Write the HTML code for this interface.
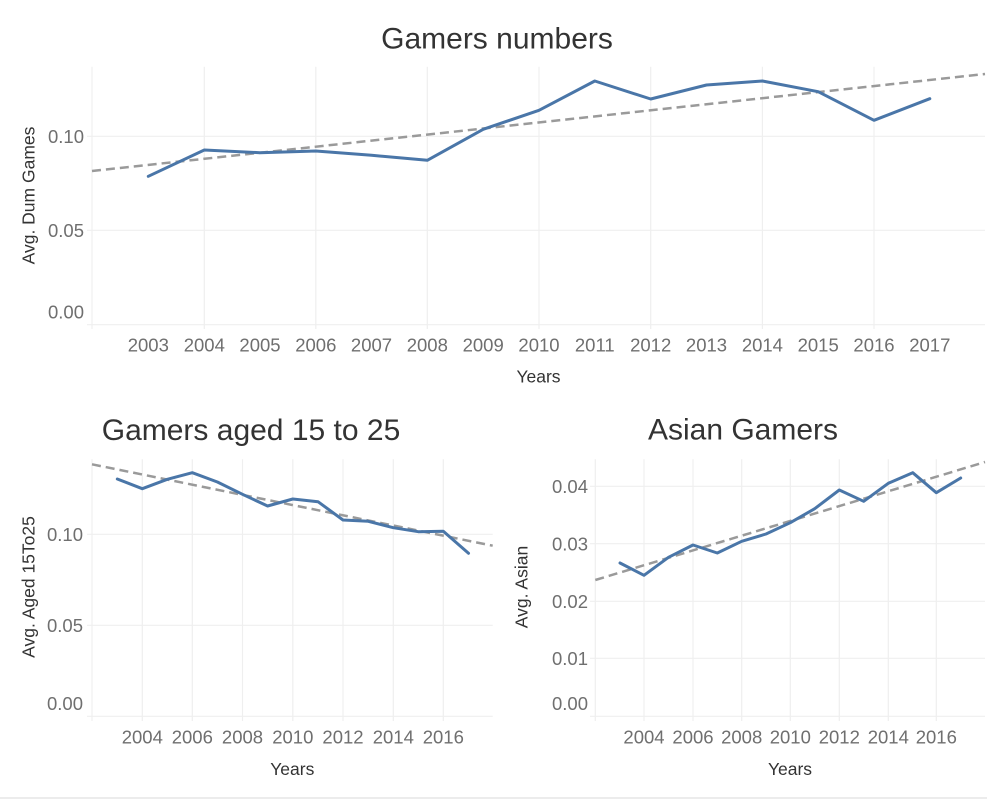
<!DOCTYPE html>
<html>
<head>
<meta charset="utf-8">
<style>
html,body{margin:0;padding:0;background:#fff;}
svg{display:block;}
text{font-family:"Liberation Sans",sans-serif;}
.title{font-size:30px;fill:#333;text-anchor:middle;}
.tick{font-size:18.5px;fill:#6f6f6f;}
.ytick{text-anchor:end;}
.xtick{text-anchor:middle;}
.alab{font-size:17.5px;fill:#333;text-anchor:middle;}
.grid{stroke:#efefef;stroke-width:1.2;fill:none;}
.series{stroke:#4a76a8;stroke-width:3;fill:none;stroke-linejoin:round;stroke-linecap:round;}
.trend{stroke:#9a9a9a;stroke-width:2.5;fill:none;stroke-dasharray:9,5;}
</style>
</head>
<body>
<svg width="987" height="800" viewBox="0 0 987 800" xmlns="http://www.w3.org/2000/svg">
<rect width="987" height="800" fill="#fff"/>

<!-- ================= TOP CHART ================= -->
<text class="title" x="497" y="48.3">Gamers numbers</text>
<g class="grid">
  <line x1="87" y1="136.3" x2="985" y2="136.3"/>
  <line x1="87" y1="230.3" x2="985" y2="230.3"/>
  <line x1="87" y1="324.7" x2="985" y2="324.7"/>
  <line x1="92" y1="66.7" x2="92" y2="329"/>
  <line x1="204.3" y1="66.7" x2="204.3" y2="329"/>
  <line x1="315.8" y1="66.7" x2="315.8" y2="329"/>
  <line x1="427.3" y1="66.7" x2="427.3" y2="329"/>
  <line x1="539" y1="66.7" x2="539" y2="329"/>
  <line x1="650.7" y1="66.7" x2="650.7" y2="329"/>
  <line x1="762.4" y1="66.7" x2="762.4" y2="329"/>
  <line x1="874" y1="66.7" x2="874" y2="329"/>
</g>
<text class="tick ytick" x="84" y="143">0.10</text>
<text class="tick ytick" x="84" y="237">0.05</text>
<text class="tick ytick" x="84" y="318.3">0.00</text>
<g class="tick xtick">
  <text x="148.3" y="351.5">2003</text>
  <text x="204.3" y="351.5">2004</text>
  <text x="260" y="351.5">2005</text>
  <text x="315.8" y="351.5">2006</text>
  <text x="371.5" y="351.5">2007</text>
  <text x="427.3" y="351.5">2008</text>
  <text x="483.2" y="351.5">2009</text>
  <text x="539" y="351.5">2010</text>
  <text x="594.8" y="351.5">2011</text>
  <text x="650.7" y="351.5">2012</text>
  <text x="706.5" y="351.5">2013</text>
  <text x="762.4" y="351.5">2014</text>
  <text x="818.2" y="351.5">2015</text>
  <text x="874" y="351.5">2016</text>
  <text x="929.8" y="351.5">2017</text>
</g>
<text class="alab" x="538.5" y="382.7">Years</text>
<text class="alab" transform="translate(34.4,195.5) rotate(-90)">Avg. Dum Games</text>
<line class="trend" x1="92" y1="171" x2="985" y2="74"/>
<polyline class="series" points="148.3,176.3 204.3,150 260,152.7 315.8,151 371.5,155.3 427.3,160.3 483.2,129.3 539,110.3 594.8,81 650.7,99 706.5,85 762.4,81 818.2,91.7 874,120.3 929.8,98.7"/>

<!-- ================= BOTTOM LEFT ================= -->
<text class="title" x="251" y="440">Gamers aged 15 to 25</text>
<g class="grid">
  <line x1="87" y1="534.3" x2="492.7" y2="534.3"/>
  <line x1="87" y1="625.3" x2="492.7" y2="625.3"/>
  <line x1="87" y1="716.3" x2="492.7" y2="716.3"/>
  <line x1="92" y1="459.3" x2="92" y2="721"/>
  <line x1="142.3" y1="459.3" x2="142.3" y2="721"/>
  <line x1="192.3" y1="459.3" x2="192.3" y2="721"/>
  <line x1="242.5" y1="459.3" x2="242.5" y2="721"/>
  <line x1="292.8" y1="459.3" x2="292.8" y2="721"/>
  <line x1="343" y1="459.3" x2="343" y2="721"/>
  <line x1="393.3" y1="459.3" x2="393.3" y2="721"/>
  <line x1="443.3" y1="459.3" x2="443.3" y2="721"/>
</g>
<text class="tick ytick" x="83" y="541">0.10</text>
<text class="tick ytick" x="83" y="632">0.05</text>
<text class="tick ytick" x="83" y="710">0.00</text>
<g class="tick xtick">
  <text x="142.3" y="743.3">2004</text>
  <text x="192.3" y="743.3">2006</text>
  <text x="242.5" y="743.3">2008</text>
  <text x="292.8" y="743.3">2010</text>
  <text x="343" y="743.3">2012</text>
  <text x="393.3" y="743.3">2014</text>
  <text x="443.3" y="743.3">2016</text>
</g>
<text class="alab" x="292.3" y="775">Years</text>
<text class="alab" transform="translate(34.4,587) rotate(-90)">Avg. Aged 15To25</text>
<line class="trend" x1="92" y1="464.3" x2="492.7" y2="545.7"/>
<polyline class="series" points="117.3,479 142.3,488.7 167.3,479.3 192.3,472.7 217.4,482 242.5,494.3 267.6,506 292.8,499 318,501.7 343,520 368.2,521.3 393.3,527.7 418.3,531.7 443.3,531.3 468.5,553.3"/>

<!-- ================= BOTTOM RIGHT ================= -->
<text class="title" x="743" y="439.3">Asian Gamers</text>
<g class="grid">
  <line x1="590" y1="486.3" x2="985" y2="486.3"/>
  <line x1="590" y1="543.7" x2="985" y2="543.7"/>
  <line x1="590" y1="601.3" x2="985" y2="601.3"/>
  <line x1="590" y1="658.3" x2="985" y2="658.3"/>
  <line x1="590" y1="716.3" x2="985" y2="716.3"/>
  <line x1="595.3" y1="459.3" x2="595.3" y2="721"/>
  <line x1="644" y1="459.3" x2="644" y2="721"/>
  <line x1="693" y1="459.3" x2="693" y2="721"/>
  <line x1="741.7" y1="459.3" x2="741.7" y2="721"/>
  <line x1="790.3" y1="459.3" x2="790.3" y2="721"/>
  <line x1="839.3" y1="459.3" x2="839.3" y2="721"/>
  <line x1="888.3" y1="459.3" x2="888.3" y2="721"/>
  <line x1="936.3" y1="459.3" x2="936.3" y2="721"/>
</g>
<text class="tick ytick" x="588" y="493">0.04</text>
<text class="tick ytick" x="588" y="550.3">0.03</text>
<text class="tick ytick" x="588" y="608">0.02</text>
<text class="tick ytick" x="588" y="665">0.01</text>
<text class="tick ytick" x="588" y="710">0.00</text>
<g class="tick xtick">
  <text x="644" y="743.3">2004</text>
  <text x="693" y="743.3">2006</text>
  <text x="741.7" y="743.3">2008</text>
  <text x="790.3" y="743.3">2010</text>
  <text x="839.3" y="743.3">2012</text>
  <text x="888.3" y="743.3">2014</text>
  <text x="936.3" y="743.3">2016</text>
</g>
<text class="alab" x="790" y="775">Years</text>
<text class="alab" transform="translate(527.7,587) rotate(-90)">Avg. Asian</text>
<line class="trend" x1="595.3" y1="580" x2="985" y2="462"/>
<polyline class="series" points="620,563 644,575.3 668.5,557.3 693,545 717.3,553 741.7,541.3 766,534 790.3,522.7 814.7,508.7 839.3,490 863.7,501.3 888.3,483.3 912.7,472.7 936.3,492.7 960.7,478"/>

<!-- bottom separator -->
<line x1="0" y1="798" x2="987" y2="798" stroke="#e6e6e6" stroke-width="1.5"/>
</svg>
</body>
</html>
